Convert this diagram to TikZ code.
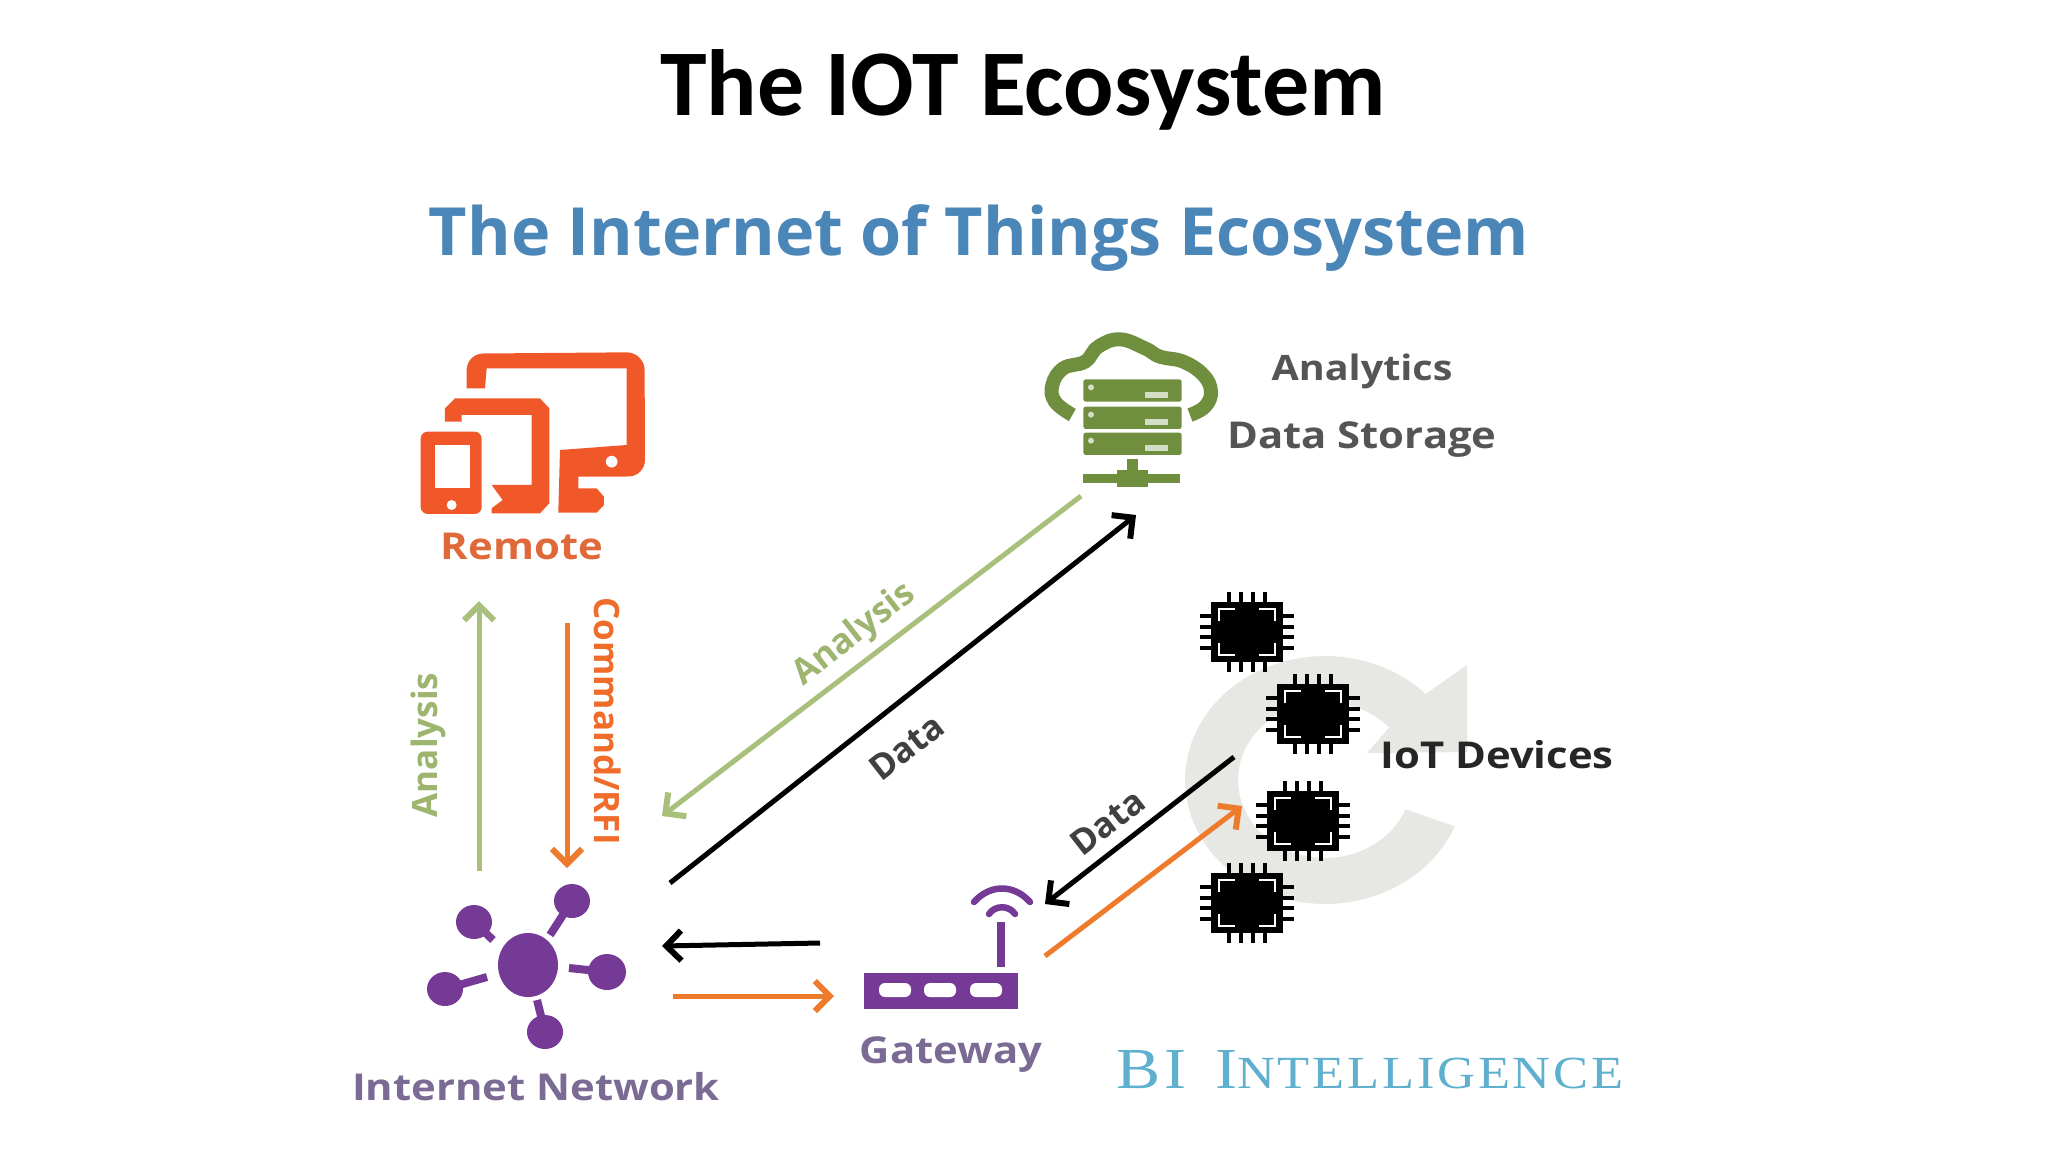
\documentclass[tikz,border=0pt]{standalone}
\usepackage{fontspec}
\setmainfont{Open Sans}
\newfontfamily\widefont[FakeStretch=1.13]{Open Sans}
\newfontfamily\titlefont{Carlito}
\newfontfamily\bifont[LetterSpace=6,FakeStretch=1.14]{Liberation Serif}
\usetikzlibrary{arrows.meta}
\definecolor{subblue}{HTML}{4A86B8}
\definecolor{remoteor}{HTML}{F0582A}
\definecolor{remotetx}{HTML}{E0693A}
\definecolor{cloudgr}{HTML}{6F8F3F}
\definecolor{arrgreen}{HTML}{A9BF7C}
\definecolor{txtgreen}{HTML}{9DB56E}
\definecolor{arror}{HTML}{EE7A2B}
\definecolor{netpur}{HTML}{743A96}
\definecolor{nettx}{HTML}{7A6A94}
\definecolor{bitx}{HTML}{5FAFCF}
\definecolor{cyclegr}{HTML}{E7E7E4}
\definecolor{labgr}{HTML}{555555}
\tikzset{
  conn/.style={line width=5pt,-{Straight Barb[length=15pt,width=30pt,line width=6pt]}},
  lab/.style={anchor=base,inner sep=0pt,font=\bfseries\fontsize{35}{35}\selectfont},
  wlab/.style={anchor=base,inner sep=0pt,font=\widefont\bfseries\fontsize{37}{37}\selectfont},
  spoke/.style={netpur,line width=8pt},
  pin/.style={black,line width=4.5pt},
  pics/chip/.style={code={
    \foreach \u in {-18,-6,6,18}{
      \draw[pin] (\u,-40) -- (\u,40);}
    \foreach \v in {-16,-5,5,16}{
      \draw[pin] (-47,\v) -- (47,\v);}
    \fill[black] (-36,-30) rectangle (36,30);
    \draw[white,line width=2.5pt] (-28,-11) -- (-28,-23) -- (-12,-23);
    \draw[white,line width=2.5pt] (28,-11) -- (28,-23) -- (12,-23);
    \draw[white,line width=2.5pt] (-28,11) -- (-28,23) -- (-12,23);
    \draw[white,line width=2.5pt] (28,11) -- (28,23) -- (12,23);
  }}
}
\begin{document}
\begin{tikzpicture}[x=1pt,y=-1pt]
\useasboundingbox (0,0) rectangle (2048,1152);
\fill[white] (0,0) rectangle (2048,1152);

% titles
\node[anchor=base,inner sep=0pt,font=\titlefont\bfseries\fontsize{94}{94}\selectfont] (title) at (1023,115) {The IOT Ecosystem};
\node[anchor=base,inner sep=0pt,text=subblue,font=\bfseries\fontsize{66.5}{66.5}\selectfont] (subtitle) at (979,255) {The Internet of Things Ecosystem};

% cycle arrow
\fill[cyclegr] plot[domain=22:316,samples=70] ({1325+140*cos(\x)},{780+124*sin(\x)})
  -- (1467,665) -- (1467,752) -- (1367,753) -- (1393,723)
  -- plot[domain=318:22,samples=70] ({1325+87*cos(\x)},{780+78*sin(\x)}) -- cycle;

% remote icon
\begin{scope}[shift={(380,320)},x=0.3333pt,y=-0.3333pt]
  \fill[remoteor,even odd rule]
    (260,205) -- (260,150) arc[start angle=180,end angle=90,radius=16.5pt] -- (740,97)
    arc[start angle=90,end angle=0,radius=18pt] -- (795,420)
    arc[start angle=0,end angle=-90,radius=16.5pt] -- (595,470) -- (595,505) -- (650,505)
    -- (672,530) -- (672,555) -- (650,578) -- (535,578) -- (540,390) -- (740,375)
    -- (740,145) -- (320,145) -- (315,205) -- cycle
    (713,425) arc[start angle=0,end angle=360,radius=6pt];
  \fill[remoteor] (195,305) -- (195,265) -- (225,235) -- (480,235) -- (508,265) -- (508,550)
    -- (480,580) -- (335,580) -- (335,565) -- (368,540) -- (335,495) -- (455,495)
    -- (455,285) -- (245,285) -- (245,305) -- cycle;
  \fill[remoteor,rounded corners=7pt] (122,335) rectangle (305,582);
  \fill[white] (165,375) rectangle (270,505);
  \fill[white] (215,555) circle[radius=5pt];
\end{scope}
\node[wlab,text=remotetx] (remote) at (522,559) {Remote};

% cloud icon
\begin{scope}[shift={(1020,320)},x=0.3333pt,y=-0.3333pt]
  \draw[cloudgr,line width=14pt] plot[smooth,tension=0.7] coordinates
    {(157,285) (105,245) (97,195) (130,145) (195,125) (235,80) (300,58) (375,85) (420,110) (490,125) (550,165) (573,215) (555,260) (510,285)};
  \foreach \y in {178,260,338}{
    \fill[cloudgr,rounded corners=2.5pt] (190,\y) rectangle (485,\y+67);
    \fill[white!70!cloudgr] (213,\y+24) circle[radius=3pt];
    \fill[white!70!cloudgr] (375,\y+38) rectangle (443,\y+55);
  }
  \fill[cloudgr] (320,418) rectangle (355,460);
  \fill[cloudgr] (190,462) rectangle (480,490);
  \fill[cloudgr] (290,450) rectangle (385,500);
\end{scope}
\node[wlab,text=labgr,font=\widefont\bfseries\fontsize{35}{35}\selectfont] (analytics) at (1362,380) {Analytics};
\node[wlab,text=labgr] (storage) at (1362,448) {Data Storage};

% chips
\pic at (1247,632) {chip};
\pic at (1313,714) {chip};
\pic at (1303,821) {chip};
\pic at (1247,903) {chip};
\node[wlab,text=black!85] (iot) at (1497,768) {IoT Devices};

% internet network icon
\fill[netpur] (528,965) ellipse[x radius=30,y radius=32];
\foreach \a/\b/\c/\d/\r in {
  572/901/550/935/18,
  474/922/493/940/18,
  445/989/487/977/18,
  607/972/569/968/19,
  545/1032/537/1000/18}{
  \draw[spoke] (\a,\b) -- (\c,\d);
  \fill[netpur] (\a,\b) ellipse[x radius=\r,y radius=\r-1];
}
\node[wlab,text=nettx] (netlab) at (536,1100) {Internet Network};

% gateway icon
\fill[netpur] (864,973) rectangle (1018,1009);
\foreach \x in {895,940,986}{
  \fill[white,rounded corners=6pt] (\x-16,983) rectangle (\x+16,997);
}
\draw[netpur,line width=8pt] (1001,967) -- (1001,922);
\draw[netpur,line width=6.5pt,line cap=round] (974,902) .. controls (990,884) and (1014,884) .. (1030,902);
\draw[netpur,line width=6.5pt,line cap=round] (989,914) .. controls (995,905) and (1009,905) .. (1015,914);
\node[wlab,text=nettx] (gwlab) at (951,1063) {Gateway};

\node[anchor=base,inner sep=0pt,text=bitx,font=\bifont\fontsize{58}{58}\selectfont] (bi) at (1370,1088) {BI\hspace{0.5em}I{\fontsize{46}{46}\selectfont NTELLIGENCE}};

% connector end points
\coordinate (netUpA) at (479,871);
\coordinate (remDownA) at (479,601);
\coordinate (remDownB) at (567,623);
\coordinate (netUpB) at (567,868);
\coordinate (cloudA) at (1081,496);
\coordinate (netDiagA) at (662,816);
\coordinate (netDiagB) at (670,883);
\coordinate (cloudB) at (1136,515);
\coordinate (devA) at (1234,757);
\coordinate (gwA) at (1045,904);
\coordinate (gwB) at (1045,956);
\coordinate (devB) at (1242,806);
\coordinate (gwC) at (820,943);
\coordinate (netC) at (662,946);
\coordinate (netD) at (673,996);
\coordinate (gwD) at (834,996);

% connectors
\draw[conn,arrgreen] (netUpA) -- (remDownA);
\draw[conn,arror] (remDownB) -- (netUpB);
\draw[conn,arrgreen] (cloudA) -- (netDiagA);
\draw[conn,black] (netDiagB) -- (cloudB);
\draw[conn,black] (devA) -- (gwA);
\draw[conn,arror] (gwB) -- (devB);
\draw[conn,black] (gwC) -- (netC);
\draw[conn,arror] (netD) -- (gwD);

% connector labels
\node[lab,text=txtgreen,rotate=90] (l1) at (437,745) {Analysis};
\node[lab,text=arror!60!remoteor,rotate=-90] (l2) at (594,721) {Command/RFI};
\node[lab,text=txtgreen,rotate=38] (l3) at (860,642) {Analysis};
\node[lab,text=black!75,rotate=38] (l4) at (914,757) {Data};
\node[lab,text=black!75,rotate=38] (l5) at (1115,832) {Data};
\end{tikzpicture}
\end{document}
